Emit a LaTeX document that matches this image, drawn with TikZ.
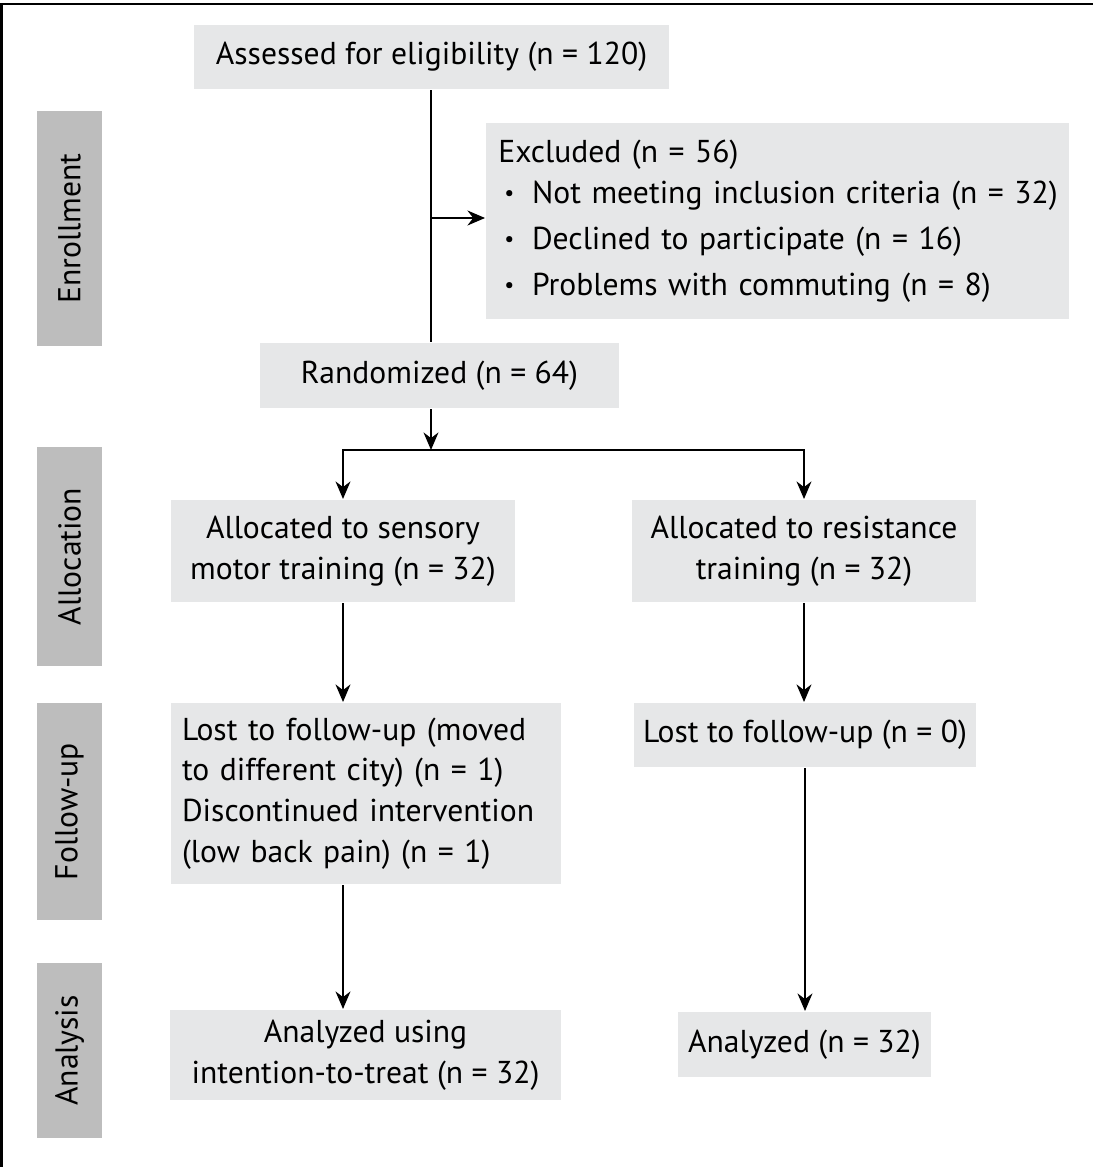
\documentclass[tikz,border=0pt]{standalone}
\usepackage{fontspec}
\setmainfont{PT Sans}
\usepackage{tikz}
\usetikzlibrary{arrows.meta}
\usetikzlibrary{positioning}
\definecolor{boxgray}{HTML}{E6E7E8}
\definecolor{phasegray}{HTML}{BDBDBD}
\tikzstyle{box} = [rectangle, fill=boxgray, inner sep=0pt, align=center,
    font=\fontsize{18}{23.2}\selectfont]
\tikzstyle{phase} = [rectangle, fill=phasegray, rotate=90, inner sep=0pt,
    minimum height=1.3cm, font=\fontsize{18}{23}\selectfont]
\newcommand{\smallbul}{\hspace*{6.5pt}\raisebox{1.5pt}{\scalebox{0.7}{\textbullet}}\hspace{10pt}}

\begin{document}
\begin{tikzpicture}[x=0.02cm,y=-0.02cm,line width=1.15pt,
                    >={Stealth[length=10pt,width=8.5pt]}]

  \useasboundingbox (0,0) rectangle (1093,1167);
  \draw (1.5,1167) -- (1.5,4) -- (1093,4);

  % phase labels
  \node[phase,minimum width=4.7cm]  (enrol)  at (69.5,228.5)  {Enrollment};
  \node[phase,minimum width=4.38cm] (alloc)  at (69.5,556.5)  {Allocation};
  \node[phase,minimum width=4.34cm] (follow) at (69.5,811.5)  {Follow-up};
  \node[phase,minimum width=3.5cm]  (anal)   at (69.5,1050.5) {Analysis};

  % boxes
  \node[box,minimum width=11.66cm,minimum height=3.94cm,align=left,
        text width=11.38cm] (excl) at (777.5,221)
      {\hspace*{3pt}Excluded (n = 56)\\[0pt]
       \smallbul Not meeting inclusion criteria (n = 32)\\[3pt]
       \smallbul Declined to participate (n = 16)\\[3pt]
       \smallbul Problems with commuting (n = 8)\\[-5pt]};
  \node[box,minimum width=9.5cm,minimum height=1.28cm]  (assess) at (431.5,57)
      {Assessed for eligibility (n = 120)};
  \node[box,minimum width=7.18cm,minimum height=1.3cm]  (rand) at (439.5,375.5)
      {Randomized (n = 64)};
  \node[box,minimum width=6.88cm,minimum height=2.04cm] (allocS) at (343,551)
      {Allocated to sensory\\motor training (n = 32)};
  \node[box,minimum width=6.88cm,minimum height=2.04cm] (allocR) at (804,551)
      {Allocated to resistance\\training (n = 32)};
  \node[box,minimum width=7.8cm,minimum height=3.62cm,align=left,
        text width=7.36cm] (lostS) at (366,793.5)
      {Lost to follow-up (moved\\to different city) (n = 1)\\
       Discontinued intervention\\(low back pain) (n = 1)};
  \node[box,minimum width=6.84cm,minimum height=1.28cm] (lostR) at (805,735)
      {Lost to follow-up (n = 0)};
  \node[box,minimum width=7.82cm,minimum height=1.8cm]  (anaS) at (365.5,1055)
      {Analyzed using\\intention-to-treat (n = 32)};
  \node[box,minimum width=5.06cm,minimum height=1.3cm]  (anaR) at (804.5,1044.5)
      {Analyzed (n = 32)};

  \coordinate (split) at (431,218);
  \coordinate (fork)  at (431,450);

  % connectors
  \draw (assess.south -| split) -- (rand.north -| split);
  \draw[->] (split) -- (split -| excl.west);
  \draw[->] (rand.south -| fork) -- (fork);
  \draw[->] (fork) -| (allocS.north);
  \draw[->] (fork) -| (allocR.north);
  \draw[->] (allocS.south) -- (allocS.south |- lostS.north);
  \draw[->] (allocR.south) -- (allocR.south |- lostR.north);
  \draw[->] (lostS.south -| allocS.south) -- (anaS.north -| allocS.south);
  \draw[->] (lostR.south) -- (lostR.south |- anaR.north);
\end{tikzpicture}
\end{document}
